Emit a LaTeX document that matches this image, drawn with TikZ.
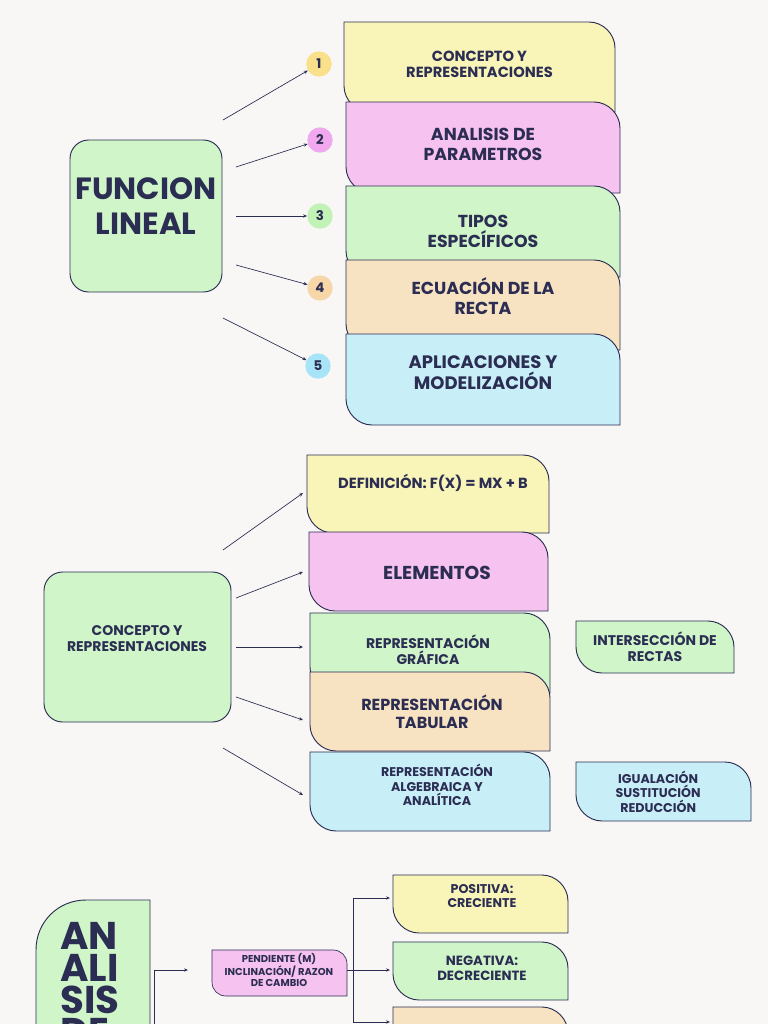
\documentclass[tikz,border=0pt]{standalone}
\usepackage{fontspec}
\setmainfont{Poppins}
\usetikzlibrary{arrows.meta}
\definecolor{ink}{HTML}{2B2D52}
\definecolor{bg}{HTML}{F8F7F5}
\definecolor{cy}{HTML}{F9F4B8}
\definecolor{cp}{HTML}{F6C2F0}
\definecolor{cg}{HTML}{CFF5C9}
\definecolor{co}{HTML}{F7E2C2}
\definecolor{cb}{HTML}{C8EEF8}
\definecolor{dy}{HTML}{F9E08A}
\definecolor{dp}{HTML}{F2A8EE}
\definecolor{dg}{HTML}{C2F2B5}
\definecolor{do}{HTML}{F7D7A8}
\definecolor{db}{HTML}{A8E4F7}
\tikzset{
 boxline/.style={draw=ink,line width=0.7pt},
 txt/.style={text=ink,font=\bfseries,align=center,inner sep=0pt},
 conn/.style={draw=ink,line width=0.5pt,-{Stealth[length=3pt,width=2.5pt]}},
 num/.style={circle,minimum size=19pt,inner sep=0pt,text=ink,font=\bfseries\fontsize{10}{12}\selectfont},
}
\newcommand\tabbox[6]{%
 \draw[boxline,fill=#6] (#2,#3) -- ({#4-26},#3) .. controls ({#4-12},#3) and (#4,{#3+12}) .. (#4,{#3+26}) -- (#4,#5) -- ({#2+26},#5) .. controls ({#2+12},#5) and (#2,{#5-12}) .. (#2,{#5-26}) -- cycle;
 \coordinate (#1) at ({(#2+#4)/2},{(#3+#5)/2});}
\newcommand\fs[1]{\fontsize{#1pt}{1.15\dimexpr #1pt\relax}\selectfont}
\begin{document}
\begin{tikzpicture}[x=0.75pt,y=-0.75pt]
\useasboundingbox (0,0) rectangle (768,1024);
\fill[bg] (0,0) rectangle (768,1024);
% ---------- section 1
\draw[boxline,fill=cg,rounded corners=14] (70,140) rectangle (222,292);
\node[txt,font=\bfseries\fs{23}] (fl) at (146,206) {FUNCION\\LINEAL};
\node[num,fill=dy] (n1) at (319,64) {1};
\node[num,fill=dp] (n2) at (320,140) {2};
\node[num,fill=dg] (n3) at (320,216) {3};
\node[num,fill=do] (n4) at (320,288) {4};
\node[num,fill=db] (n5) at (318,366) {5};
\coordinate (a1) at (223,120);
\coordinate (a2) at (236,167);
\coordinate (a3) at (236,216);
\coordinate (a4) at (236,265);
\coordinate (a5) at (223,318);
\draw[conn] (a1) -- (n1);
\draw[conn] (a2) -- (n2);
\draw[conn] (a3) -- (n3);
\draw[conn] (a4) -- (n4);
\draw[conn] (a5) -- (n5);
\tabbox{b1}{344}{22}{615}{112}{cy}
\node[txt,font=\bfseries\fs{11}] (tb1) at ([yshift=2pt]b1) {CONCEPTO Y\\REPRESENTACIONES};
\tabbox{b2}{346}{102}{620}{193}{cp}
\node[txt,font=\bfseries\fs{13}] (tb2) at ([yshift=2pt]b2) {ANALISIS DE\\PARAMETROS};
\tabbox{b3}{346}{186}{620}{277}{cg}
\node[txt,font=\bfseries\fs{13}] (tb3) at ([yshift=0pt]b3) {TIPOS\\ESPECÍFICOS};
\tabbox{b4}{346}{260}{620}{350}{co}
\node[txt,font=\bfseries\fs{13}] (tb4) at ([yshift=7pt]b4) {ECUACIÓN DE LA\\RECTA};
\tabbox{b5}{346}{334}{620}{425}{cb}
\node[txt,font=\bfseries\fs{13.5}] (tb5) at ([yshift=5pt]b5) {APLICACIONES Y\\MODELIZACIÓN};
% ---------- section 2
\draw[boxline,fill=cg,rounded corners=14] (44,572) rectangle (231,722);
\node[txt,font=\bfseries\fs{10.5}] (cr) at (137,639) {CONCEPTO Y\\REPRESENTACIONES};
\tabbox{d1}{307}{455}{549}{533}{cy}
\tabbox{d2}{309}{532}{548}{611}{cp}
\tabbox{d3}{310}{613}{550}{693}{cg}
\tabbox{d4}{310}{672}{550}{751}{co}
\tabbox{d5}{310}{752}{550}{831}{cb}
\node[txt,font=\bfseries\fs{11}] (td1) at (433,483) {DEFINICIÓN: F(X) = MX + B};
\node[txt,font=\bfseries\fs{14}] (td2) at (437,573) {ELEMENTOS};
\node[txt,font=\bfseries\fs{10.5}] (td3) at (428,650) {REPRESENTACIÓN\\GRÁFICA};
\node[txt,font=\bfseries\fs{12}] (td4) at (432,712) {REPRESENTACIÓN\\TABULAR};
\node[txt,font=\bfseries\fs{9.5}] (td5) at (437,785) {REPRESENTACIÓN\\ALGEBRAICA Y\\ANALÍTICA};
\coordinate (c1) at (223,550); \coordinate (e1) at (303,493);
\coordinate (c2) at (236,598); \coordinate (e2) at (303,572);
\coordinate (c3) at (236,647); \coordinate (e3) at (303,647);
\coordinate (c4) at (236,697); \coordinate (e4) at (303,720);
\coordinate (c5) at (223,748); \coordinate (e5) at (303,795);
\foreach \i in {1,...,5}{\draw[conn] (c\i) -- (e\i);}
\tabbox{f1}{576}{621}{734}{673}{cg}
\node[txt,font=\bfseries\fs{10.5}] (tf1) at (f1) {INTERSECCIÓN DE\\RECTAS};
\tabbox{f2}{576}{762}{751}{821}{cb}
\node[txt,font=\bfseries\fs{9.5}] (tf2) at ([xshift=-4pt]f2) {IGUALACIÓN\\SUSTITUCIÓN\\REDUCCIÓN};
% ---------- section 3
\draw[boxline,fill=cg] (150,1030) -- (150,900) -- (86,900) .. controls (58,900) and (36,922) .. (36,950) -- (36,1030);
\node[txt,font=\bfseries\fontsize{29pt}{24pt}\selectfont,align=left,anchor=north west] (an) at (60,922) {AN\\ALI\\SIS\\DE};
\coordinate (g0) at (154,1030);
\coordinate (g1) at (154,970);
\coordinate (g2) at (188,970);
\draw[conn] (g0) -- (g1) -- (g2);
\draw[boxline,fill=cp,line width=0.5pt] (212,950) -- ({347-14},950) .. controls ({347-6},950) and (347,956) .. (347,964) -- (347,996) -- (226,996) .. controls (218,996) and (212,990) .. (212,982) -- cycle;
\coordinate (pe) at (279,970);
\node[txt,font=\bfseries\fs{7.5}] (tpe) at (pe) {PENDIENTE (M)\\INCLINACIÓN/ RAZON\\DE CAMBIO};
\tabbox{h1}{393}{875}{568}{933}{cy}
\tabbox{h2}{393}{942}{568}{1000}{cg}
\tabbox{h3}{393}{1007}{568}{1060}{co}
\node[txt,font=\bfseries\fs{9.5}] (th1) at (482,896) {POSITIVA:\\CRECIENTE};
\node[txt,font=\bfseries\fs{10}] (th2) at (482,968) {NEGATIVA:\\DECRECIENTE};
\coordinate (k0) at (347,970);
\coordinate (k1) at (353,898); \coordinate (m1) at (390,898);
\coordinate (k2) at (353,970); \coordinate (m2) at (390,970);
\coordinate (k3) at (353,1022); \coordinate (m3) at (390,1022);
\draw[draw=ink,line width=0.5pt] (k1) -- (k3);
\draw[draw=ink,line width=0.5pt] (k0) -- (k2);
\draw[conn] (k1) -- (m1);
\draw[conn] (k2) -- (m2);
\draw[conn] (k3) -- (m3);
\end{tikzpicture}
\end{document}
